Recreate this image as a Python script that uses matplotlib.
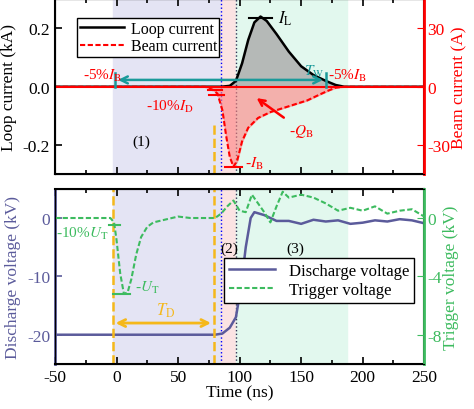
import numpy as np
import matplotlib.pyplot as plt

plt.rcParams['font.family'] = ['Liberation Serif', 'DejaVu Serif']
plt.rcParams['font.size'] = 12.5
plt.rcParams['mathtext.fontset'] = 'stix'

# loop current (kA)
t_loop = [-50, 85, 92, 97, 102, 107, 112, 117, 122, 130, 140, 150, 160, 170, 178, 185, 250]
i_loop = [0, 0, 0.003, 0.02, 0.08, 0.16, 0.22, 0.24, 0.225, 0.18, 0.12, 0.07, 0.04, 0.02, 0.006, 0, 0]
# beam current (A)
t_beam = [-50, 72, 78, 82, 86, 89, 92, 95, 98, 102, 107, 115, 125, 140, 155, 165, 172, 178, 185, 250]
i_beam = [0, 0, -1.5, -3.5, -12, -25, -36, -41, -38, -28, -21, -16, -13, -10, -7, -4, -2, -0.5, 0, 0]
# discharge voltage (kV)
t_dis = [-50, 80, 86, 92, 97, 101, 105, 109, 112, 120, 130, 140, 150, 160, 170, 180, 190, 200, 210, 220, 230, 240, 250]
u_dis = [-20, -20, -19.8, -18.8, -17, -12, -5, 0, 1, 0.5, -0.5, -0.5, -1, -0.3, -0.6, -0.4, -1, -0.8, -0.4, -0.6, -0.2, -0.4, -0.9]
# trigger voltage (kV)
t_trig = [-50, -5, -2, 0, 3, 6, 9, 12, 16, 20, 25, 30, 40, 50, 60, 70, 80, 85, 90, 95, 100, 105, 110, 115, 120, 125, 130,
          135, 140, 150, 160, 170, 180, 190, 200, 210, 220, 230, 240, 250]
u_trig = [0, 0, -0.3, -1.5, -3.8, -5.2, -5.1, -4.2, -2.5, -1.3, -0.6, -0.3, -0.1, 0.1, 0, 0, 0, 0.3, 0.8, 1.2, 0.5, 0.4, 1.6, 1.0, 0.4, -0.3, 0.8,
           1.8, 1.4, 1.6, 1.4, 1.0, 0.5, 0.7, 0.5, 0.8, 0.3, 0.5, 0.6, 0.1]

blue = '#5b5b9b'
green = '#3dbb5f'
teal = '#1a9a9a'
orange = '#f5b81a'
dash = (0, (2.5, 1.2))
fs = 11

fig = plt.figure(figsize=(4.74, 4.10), dpi=100)
ax1 = fig.add_axes([0.116, 0.572, 0.779, 0.428])
ax3 = fig.add_axes([0.116, 0.11, 0.779, 0.427])

for ax in (ax1, ax3):
    ax.axvspan(-3, 85, color='#e4e4f4', zorder=0)
    ax.axvspan(85, 97, color='#fbe3e3', zorder=0)
    ax.axvspan(97, 187, color='#e2f8ee', zorder=0)
    ax.axvline(85, color='blue', ls=':', lw=1)
    ax.axvline(97, color='#333355', ls=':', lw=1)
    ax.set_xlim(-50, 250)
    ax.set_xticks(np.arange(-50, 251, 50))
    ax.set_xticks(np.arange(-50, 251, 25), minor=True)
    ax.tick_params(which='both', direction='in', top=True, length=5, width=1.2)
    ax.tick_params(which='minor', length=3)
    for s in ax.spines.values():
        s.set_linewidth(1.5)

# top panel
ax1.plot(t_loop, i_loop, color='black', lw=1.8, label='Loop current')
ax1.fill_between(t_loop, i_loop, color='#aaaaaa', alpha=0.8)
ax1.set_ylim(-0.3, 0.3)
ax1.set_yticks([-0.2, 0.0, 0.2])
ax1.set_yticklabels(['-0.2', '0.0', '0.2'])
ax1.set_ylabel('Loop current (kA)')
ax1.tick_params(labelbottom=False, right=False)
ax1.axvline(79, ymin=0, ymax=0.3, color=orange, ls='--', lw=1.8)
ax2 = ax1.twinx()
ax2.plot(t_beam, i_beam, color='red', ls=dash, lw=1.5, label='Beam current')
ax2.fill_between(t_beam, i_beam, color='#ff8080', alpha=0.6)
ax2.axhline(0, color='red', lw=1.5)
ax2.set_ylim(-45, 45)
ax2.set_yticks([-30, 0, 30])
ax2.set_yticklabels(['-30', '0', '30'])
ax2.set_ylabel('Beam current (A)', color='red', labelpad=1)
ax2.tick_params(axis='y', colors='red', direction='in', length=5, pad=2)
ax2.spines['right'].set_color('red')
ax2.spines['right'].set_linewidth(2)
h1, l1 = ax1.get_legend_handles_labels()
h2, l2 = ax2.get_legend_handles_labels()
ax2.legend(h1 + h2, l1 + l2, loc='upper left', bbox_to_anchor=(0.06, 0.89), fancybox=False, framealpha=1,
           edgecolor='black', fontsize=11.5, handlelength=2.8, borderpad=0.15, labelspacing=0.1,
           handletextpad=0.4, borderaxespad=0)
ax2.annotate('', xy=(-1, 3.5), xytext=(170, 3.5),
             arrowprops=dict(arrowstyle='<->', color=teal, lw=1.8))
ax2.plot([-1, -1], [0, 7], color=teal, lw=1.8)
ax2.plot([170, 170], [0, 7], color=teal, lw=1.8)
ax2.text(152, 6, '$T_\\mathrm{W}$', color=teal, fontsize=fs)
ax2.text(131, 33, '$I_\\mathrm{L}$', fontsize=12)
ax2.plot([108, 126], [35.5, 35.5], color='black', lw=1.5)
ax2.plot([88, 102], [-41, -41], color='red', lw=1.5)
ax2.text(104, -41, '-$I_\\mathrm{B}$', color='red', fontsize=fs)
ax2.plot([74, 86], [-1.5, -1.5], color='red', lw=1.5)
ax2.plot([75, 87], [-4, -4], color='red', lw=1.5)
ax2.text(-27, 4, '-5%$I_\\mathrm{B}$', color='red', fontsize=fs)
ax2.text(172, 4, '-5%$I_\\mathrm{B}$', color='red', fontsize=fs)
ax2.text(24, -12, '-10%$I_\\mathrm{D}$', color='red', fontsize=fs)
ax2.annotate('-$Q_\\mathrm{B}$', xy=(112, -5), xytext=(140, -24), color='red', fontsize=fs,
             arrowprops=dict(arrowstyle='->', color='red', lw=1.8))
ax2.text(13, -30, '(1)', fontsize=fs)

# bottom panel
ax3.plot(t_dis, u_dis, color=blue, lw=1.8, label='Discharge voltage')
ax3.set_ylim(-25, 5)
ax3.set_yticks([-20, -10, 0])
ax3.set_yticklabels(['-20', '-10', '0'])
ax3.set_ylabel('Discharge voltage (kV)', color=blue)
ax3.tick_params(axis='y', colors=blue, right=False)
ax3.spines['left'].set_color(blue)
ax3.spines['left'].set_linewidth(2)
ax3.set_xticklabels(['-50', '0', '50', '100', '150', '200', '250'])
ax3.set_xlabel('Time (ns)', labelpad=0)
ax3.axvline(-3, color=orange, ls='--', lw=1.8)
ax3.axvline(79, color=orange, ls='--', lw=1.8)
ax3.annotate('', xy=(-3, -18), xytext=(79, -18),
             arrowprops=dict(arrowstyle='<->', color=orange, lw=2))
ax3.text(32, -16.5, '$T_\\mathrm{D}$', color=orange, fontsize=12)
ax4 = ax3.twinx()
ax4.plot(t_trig, u_trig, color=green, ls=dash, lw=1.5, label='Trigger voltage')
ax4.set_ylim(-10, 2)
ax4.set_yticks([-8, -4, 0])
ax4.set_yticklabels(['-8', '-4', '0'])
ax4.set_ylabel('Trigger voltage (kV)', color=green, labelpad=1)
ax4.tick_params(axis='y', colors=green, direction='in', length=5, pad=2)
ax4.spines['right'].set_color(green)
ax4.spines['right'].set_linewidth(2)
ax4.plot([-6, 3], [-0.5, -0.5], color=green, lw=1.5)
ax4.plot([-3, 11], [-5.2, -5.2], color=green, lw=1.5)
ax4.text(-49, -1.3, '-10%$U_\\mathrm{T}$', color=green, fontsize=fs)
ax4.text(15, -5.0, '-$U_\\mathrm{T}$', color=green, fontsize=fs)
ax4.text(84, -2.3, '(2)', fontsize=fs)
ax4.text(138, -2.3, '(3)', fontsize=fs)
h3, l3 = ax3.get_legend_handles_labels()
h4, l4 = ax4.get_legend_handles_labels()
ax4.legend(h3 + h4, l3 + l4, loc='lower right', bbox_to_anchor=(0.995, 0.3), fancybox=False, framealpha=1,
           edgecolor='black', fontsize=12, handlelength=2.8, borderpad=0.3, labelspacing=0.2)

fig.savefig('out.png')
